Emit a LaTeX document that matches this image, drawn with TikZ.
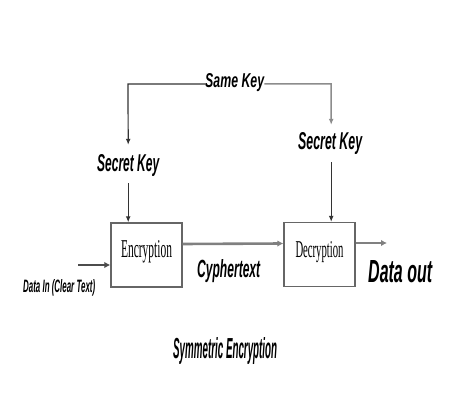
\documentclass[tikz,border=0pt]{standalone}
\usepackage{fontspec}
\setmainfont{Liberation Serif}
\setsansfont{Liberation Sans}
\usepackage{graphicx}
\usetikzlibrary{arrows.meta}
\newcommand{\fitsans}[3]{\resizebox{#1pt}{#2pt}{\fontsize{20}{24}\selectfont\sffamily\bfseries\itshape #3}}
\newcommand{\fitserif}[3]{\resizebox{#1pt}{#2pt}{\fontsize{20}{24}\selectfont\rmfamily #3}}
\tikzset{
  lbl/.style={inner sep=0pt, anchor=base west},
  box/.style={draw=black!60, line width=1.3pt, minimum width=71pt, minimum height=64pt,
    inner sep=0pt, text height=17pt, text depth=11pt, fill=white},
  arr/.style={-{Latex[length=6pt,width=5pt]}},
  arrb/.style={-{Latex[length=6pt,width=6.5pt]}},
  keyline/.style={draw=black!80, line width=1.2pt},
  keyline2/.style={draw=black!45, line width=1.5pt},
  flow/.style={draw=black!50, line width=2.6pt},
  flowin/.style={draw=black!70, line width=2pt}
}
\begin{document}
\begin{tikzpicture}[x=1pt,y=-1pt]
\useasboundingbox (0,0) rectangle (474,414);
% boxes
\node[box] (enc) at (146.5,255) {\fitserif{51}{17}{Encryption}};
\node[box] (dec) at (319.5,254.5) {\fitserif{48}{16}{Decryption}};
% labels
\node[lbl] (same) at (205,88) {\fitsans{59}{14}{Same Key}};
\node[lbl] (skl) at (97,172) {\fitsans{62}{17}{Secret Key}};
\node[lbl] (skr) at (298,150) {\fitsans{64}{17}{Secret Key}};
\node[lbl] (cyph) at (197,277) {\fitsans{63}{18}{Cyphertext}};
\node[lbl] (dout) at (368,282) {\fitsans{64}{22}{Data out}};
\node[lbl] (din) at (23,292) {\fitsans{72}{13}{Data In (Clear Text)}};
\node[lbl] (title) at (173,358) {\fitsans{104}{21}{Symmetric Encryption}};
% corners and free ends
\coordinate (cl) at (128,84);
\coordinate (cr) at (331,84);
\coordinate (inS) at (78,265);
\coordinate (outE) at (387,243);
% key lines
\draw[keyline,arr] (same.west |- cl) -- (cl) -- ([yshift=10pt]skl.north);
\draw[keyline2,arr] (same.east |- cr) -- (cr) -- ([xshift=1pt,yshift=8pt]skr.north);
\draw[keyline,arr] ([yshift=-6pt]skl.south) -- (skl.south |- enc.north);
\draw[keyline,arr] ([xshift=1pt,yshift=-7pt]skr.south) -- ([xshift=1pt]skr.south |- dec.north);
% flow arrows
\draw[flowin,arrb] (inS) -- (inS -| enc.west);
\draw[flow,arrb] ([yshift=11pt]enc.east) -- ([yshift=11pt]dec.west);
\draw[flow,arrb] ([yshift=11.5pt]dec.east) -- (outE);
\end{tikzpicture}
\end{document}
